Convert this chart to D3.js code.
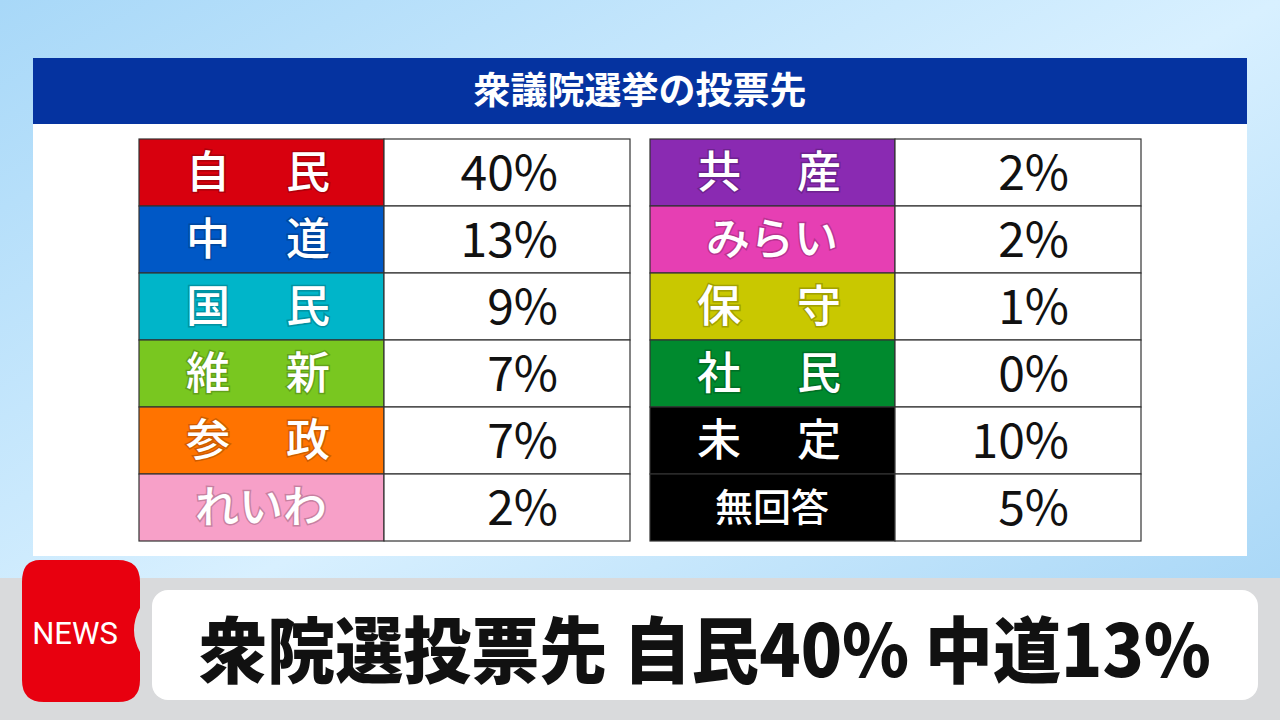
<!DOCTYPE html><html><head><meta charset="utf-8"><script src="https://cdn.jsdelivr.net/npm/d3@7"></script>
<style>body{margin:0;overflow:hidden}</style></head><body><svg id="c" width="1280" height="720"></svg>
<script>
const title="衆議院選挙の投票先";
const headline="衆院選投票先 自民40% 中道13%";
const leftParties=["自　民","中　道","国　民","維　新","参　政","れいわ"];
const leftValues=[40,13,9,7,7,2];
const leftColors=["#d8000e","#0058c6","#00b5c9","#79c720","#ff7300","#f7a0c8"];
const rightParties=["共　産","みらい","保　守","社　民","未　定","無回答"];
const rightValues=[2,2,1,0,10,5];
const rightColors=["#8a2ab2","#e63fb3","#c9c800","#008a2e","#000000","#000000"];

const svg=d3.select("#c");
const defs=svg.append("defs");
const g=defs.append("linearGradient").attr("id","bg").attr("x1",0).attr("y1",0).attr("x2",1).attr("y2",1);
g.append("stop").attr("offset",0).attr("stop-color","#a8d8f8");
g.append("stop").attr("offset",0.5).attr("stop-color","#d8f0ff");
g.append("stop").attr("offset",1).attr("stop-color","#9fd2f5");
svg.append("rect").attr("width",1280).attr("height",720).attr("fill","url(#bg)");
svg.append("rect").attr("x",33).attr("y",58).attr("width",1214).attr("height",498).attr("fill","#fff");
svg.append("rect").attr("x",33).attr("y",58).attr("width",1214).attr("height",66).attr("fill","#0533a0");
svg.append("text").attr("x",640).attr("y",104).attr("text-anchor","middle").attr("fill","#fff")
 .attr("font-family","Noto Sans CJK JP").attr("font-weight",700).attr("font-size",37).text(title);

const y=d3.scaleBand().domain(d3.range(6)).range([139,541]);
function table(x0,parties,values,colors){
  const gg=svg.append("g");
  parties.forEach((p,i)=>{
    gg.append("rect").attr("x",x0).attr("y",y(i)).attr("width",245).attr("height",y.bandwidth()).attr("fill",colors[i]).attr("stroke","#333").attr("stroke-width",1.2);
    gg.append("rect").attr("x",x0+245).attr("y",y(i)).attr("width",246).attr("height",y.bandwidth()).attr("fill","#fff").attr("stroke","#333").attr("stroke-width",1.2);
    const dark=colors[i]==="#000000"?"#000":d3.color(colors[i]).darker(0.6);
    const fs=p==="無回答"?38:44;
    gg.append("text").attr("x",x0+122).attr("y",y(i)+y.bandwidth()/2+fs*0.36).attr("text-anchor","middle")
     .attr("font-family","Noto Sans CJK JP").attr("font-weight",500).attr("font-size",fs)
     .attr("letter-spacing",p.includes("　")?6:0)
     .attr("fill","#fff").attr("stroke",dark).attr("stroke-width",3).attr("paint-order","stroke").text(p);
    gg.append("text").attr("x",x0+419).attr("y",y(i)+y.bandwidth()/2+17).attr("text-anchor","end")
     .attr("font-family","Noto Sans CJK JP").attr("font-size",48).attr("fill","#111").text(values[i]+"%");
  });
}
table(139,leftParties,leftValues,leftColors);
table(650,rightParties,rightValues,rightColors);

svg.append("rect").attr("x",0).attr("y",578).attr("width",1280).attr("height",142).attr("fill","#d9dadc");
svg.append("rect").attr("x",152).attr("y",590).attr("width",1106).attr("height",110).attr("rx",16).attr("fill","#fff");
svg.append("text").attr("x",705).attr("y",677).attr("text-anchor","middle").attr("font-family","Noto Sans CJK JP")
 .attr("font-weight",900).attr("font-size",72).attr("textLength",1012).attr("lengthAdjust","spacingAndGlyphs").attr("fill","#111").text(headline);
svg.append("path").attr("d","M40,560 H118 Q140,560 140,582 V608 Q128,630 140,652 V680 Q140,702 118,702 H44 Q22,702 22,680 V582 Q22,560 40,560 Z").attr("fill","#e8000f");
svg.append("text").attr("x",75).attr("y",644).attr("text-anchor","middle").attr("font-family","Roboto").attr("font-size",31).attr("fill","#fff").text("NEWS");
</script></body></html>
